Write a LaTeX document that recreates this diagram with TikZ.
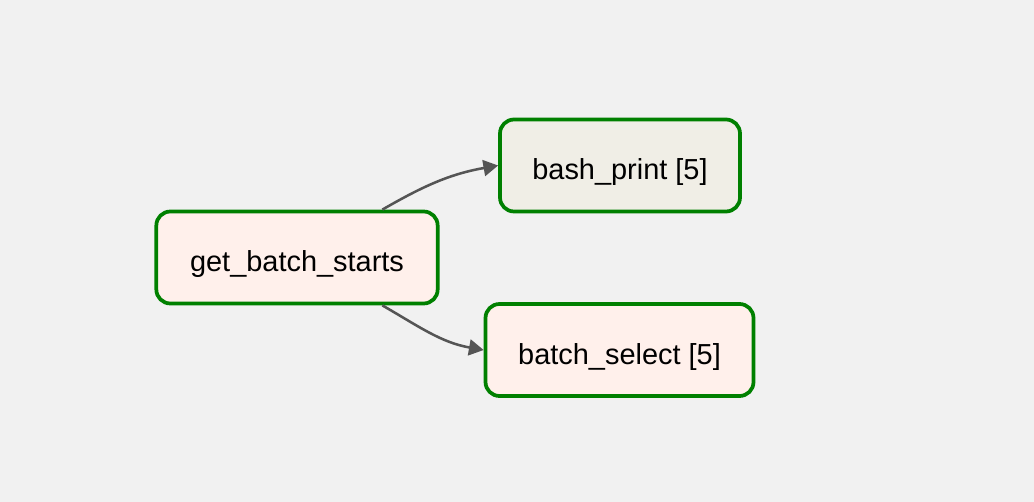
\documentclass[tikz,border=0pt]{standalone}
\usepackage{fontspec}
\setmainfont{Liberation Sans}
\usetikzlibrary{arrows.meta}
\definecolor{bggray}{HTML}{F1F1F1}
\definecolor{taskgreen}{HTML}{008000}
\definecolor{pinkfill}{HTML}{FFF0EB}
\definecolor{beigefill}{HTML}{F0EEE6}
\definecolor{edgegray}{HTML}{555555}
\begin{document}
\begin{tikzpicture}[x=0.75pt,y=-0.75pt]
    \tikzstyle{box} = [rectangle, rounded corners=10.5pt, minimum height=69pt, text height=21pt, text depth=0pt, text centered, draw=taskgreen, line width=2.8pt, font=\fontsize{21.7}{26}\selectfont]
    \tikzstyle{link} = [draw=edgegray, line width=1.9pt, -{Triangle[length=11pt,width=12pt]}]

    \fill [bggray] (0,0) rectangle (1034,502);

    \node [box, fill=pinkfill, minimum width=211pt] (getbatch) at (297,257.5) {get\_batch\_starts};
    \node [box, fill=beigefill, minimum width=180pt] (bashprint) at (620,165.5) {bash\_print [5]};
    \node [box, fill=pinkfill, minimum width=201pt] (batchselect) at (619.5,350) {batch\_select [5]};

    % edges leave from the right part of the first task
    \draw [link] ([xshift=64pt]getbatch.north) to[out=30, in=190] (bashprint.west);
    \draw [link] ([xshift=64pt]getbatch.south) to[out=-30, in=170] (batchselect.west);
\end{tikzpicture}
\end{document}
